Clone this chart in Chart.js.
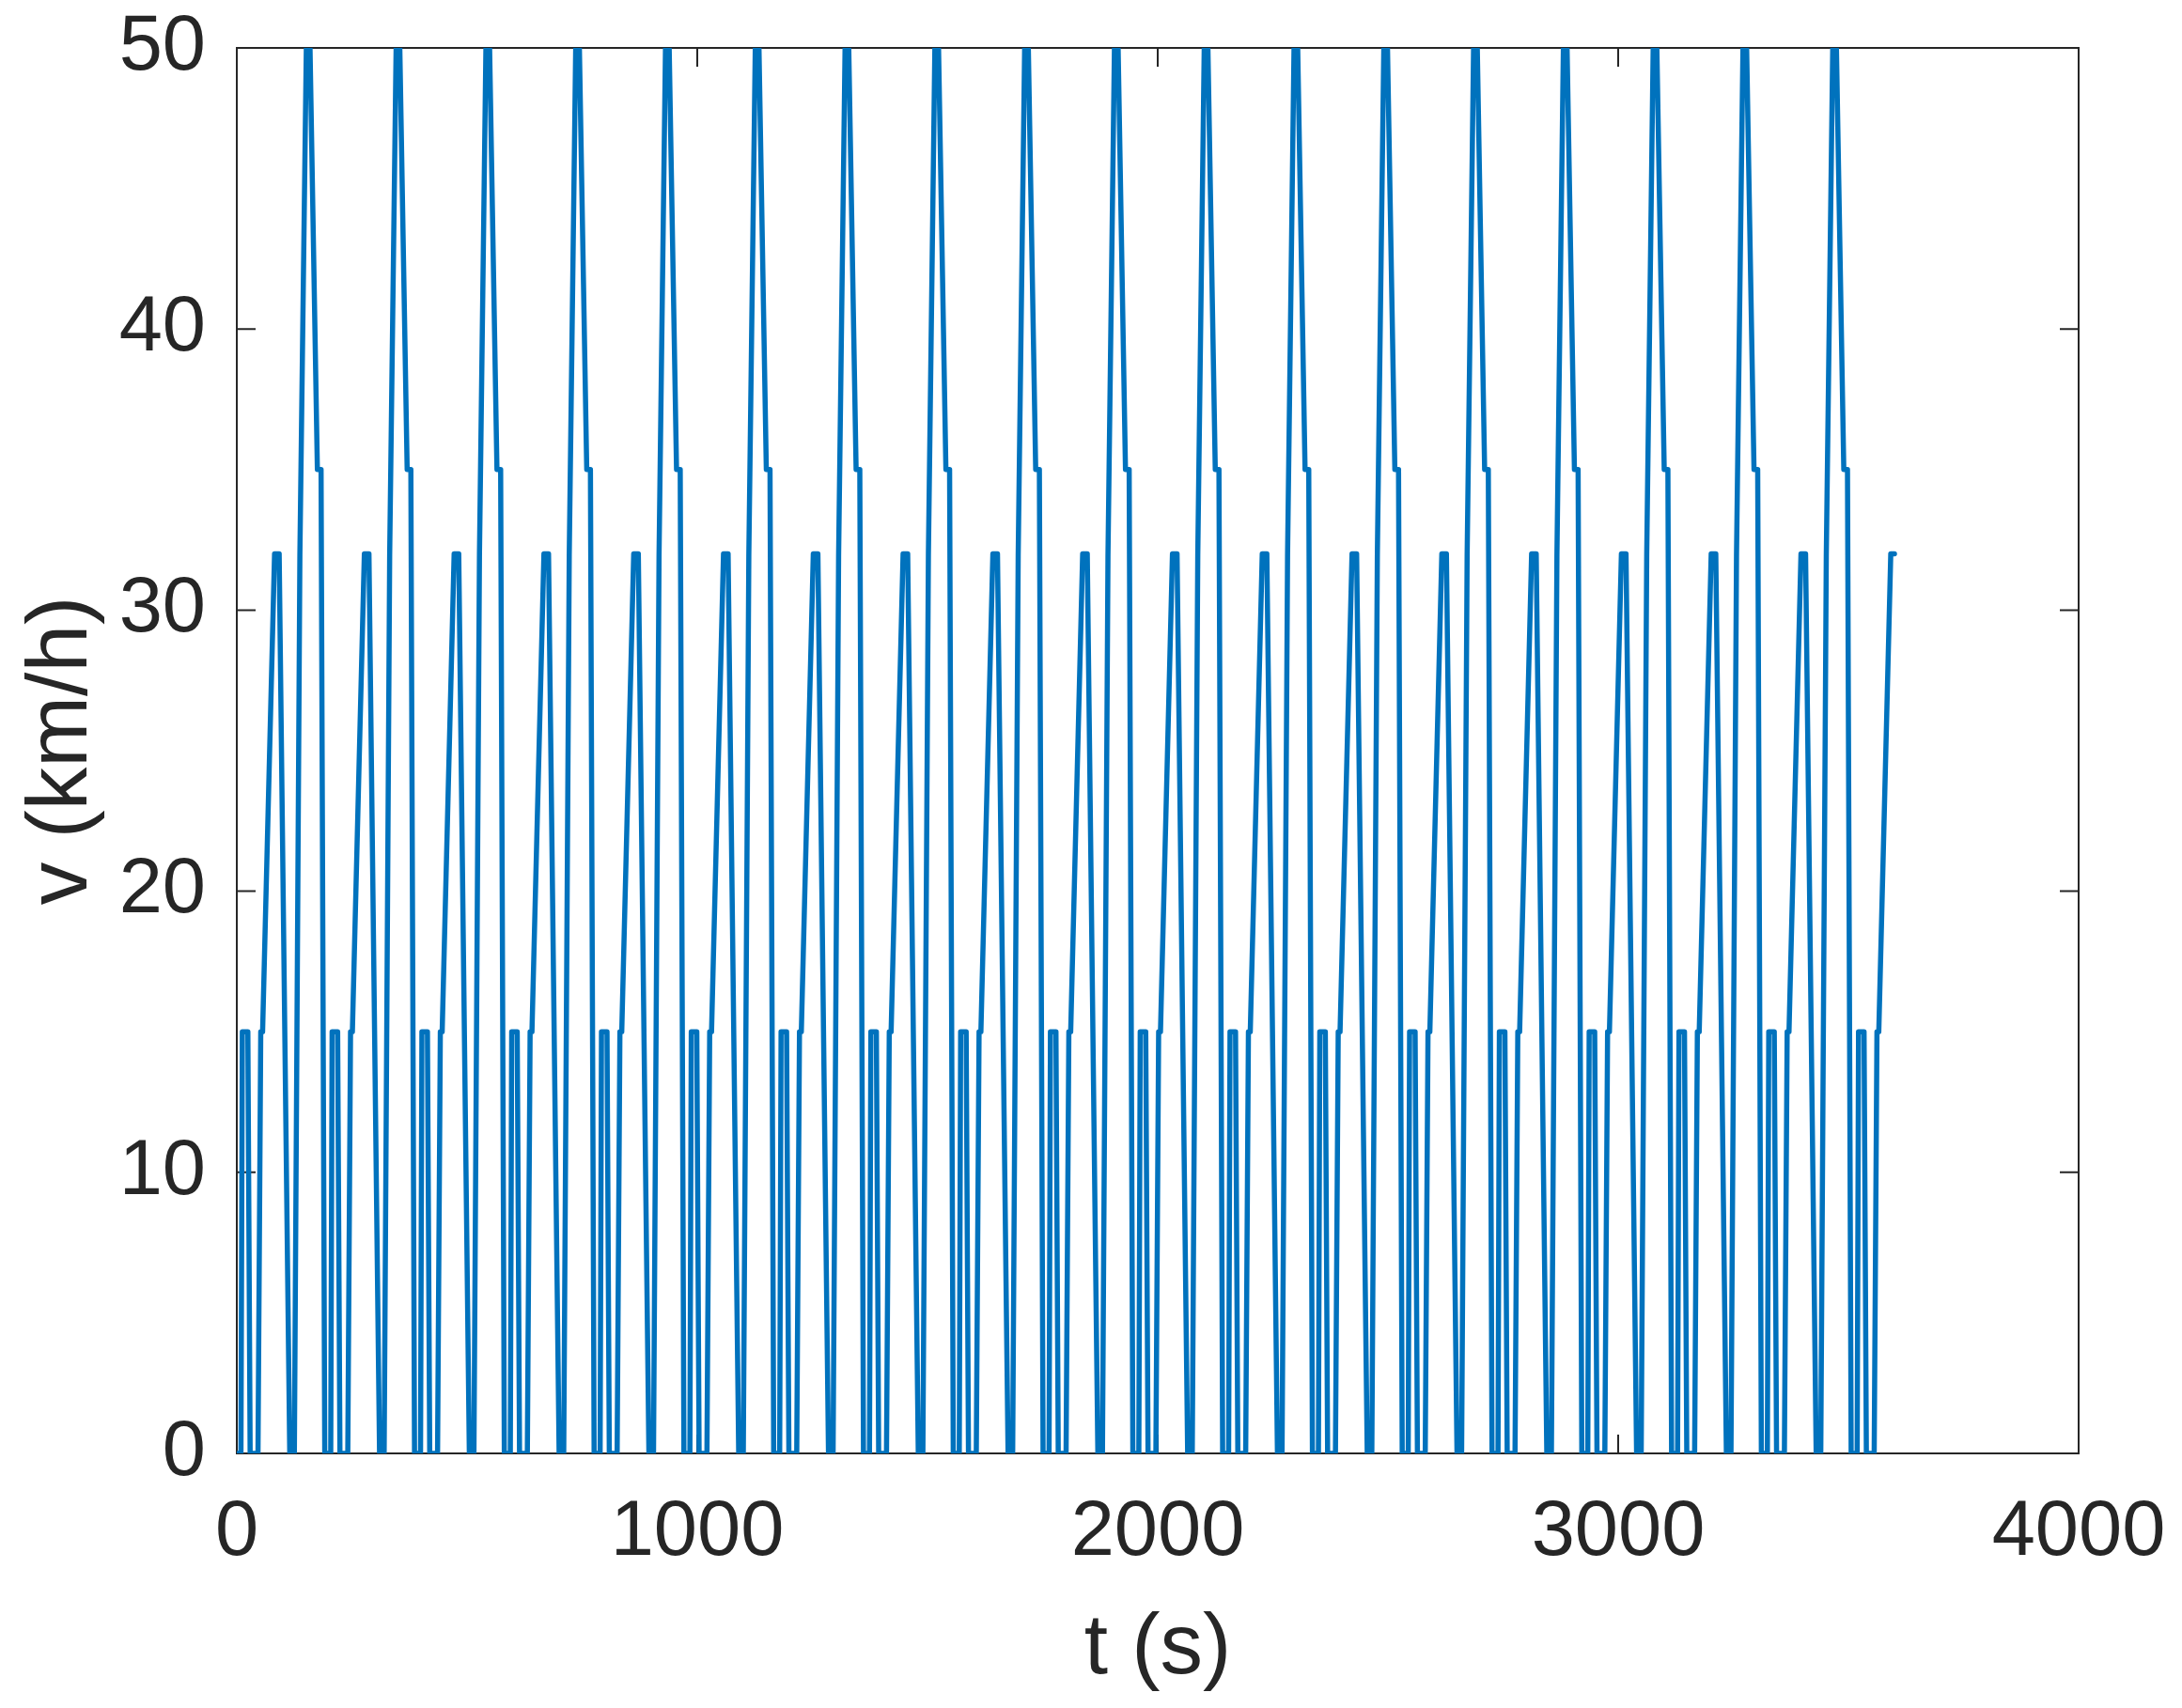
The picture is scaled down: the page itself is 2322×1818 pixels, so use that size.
<!DOCTYPE html>
<html>
<head>
<meta charset="utf-8">
<title>v (km/h) vs t (s)</title>
<script src="https://cdn.jsdelivr.net/npm/chart.js@4.4.1/dist/chart.umd.min.js"></script>
<style>
  html, body { margin: 0; padding: 0; background: #fff; }
  #wrap { width: 2322px; height: 1818px; }
</style>
</head>
<body>
<div id="wrap"><canvas id="cycle" width="2322" height="1818"></canvas></div>
<script>
// one driving cycle (s, km/h)
const cycleTime  = [0, 9, 12, 24, 29, 46, 52, 56, 82, 92, 115, 125, 137, 151, 159, 175, 183, 191, 195];
const cycleSpeed = [0, 0, 15, 15,  0,  0, 15, 15, 32, 32,   0,   0,  32,  50,  50,  35,  35,   0,   0];

// where each repetition starts on the time axis
const cycleStart = [0, 195, 390, 585, 780, 975, 1170, 1365, 1560, 1755,
                    1950, 2145, 2340, 2535, 2730, 2925, 3120, 3315, 3510];

// the trace stops here
const endTime = 3600;
const endSpeed = 32;

// axis ticks
const xTicks = [0, 1000, 2000, 3000, 4000];
const yTicks = [0, 10, 20, 30, 40, 50];

const axisColor = '#262626';
const lineColor = '#0072BD';
const fontFamily = '"Liberation Sans", Arial, Helvetica, sans-serif';

let points = [];
cycleStart.forEach(s => {
    for (let i = 0; i < cycleTime.length; i++) {
        const t = s + cycleTime[i];
        if (t > endTime) break;
        points.push({ x: t, y: cycleSpeed[i] });
    }
});
if (points[points.length - 1].x < endTime) points.push({ x: endTime, y: endSpeed });

// box + inward ticks on all four sides, like a matlab axes
const boxPlugin = {
    id: 'box',
    beforeDatasetsDraw(chart) {
        const { ctx, chartArea: a, scales } = chart;
        const len = 20;
        ctx.save();
        ctx.strokeStyle = axisColor;
        ctx.lineWidth = 2;
        ctx.beginPath();
        xTicks.forEach(v => {
            const px = scales.x.getPixelForValue(v);
            ctx.moveTo(px, a.bottom); ctx.lineTo(px, a.bottom - len);
            ctx.moveTo(px, a.top); ctx.lineTo(px, a.top + len);
        });
        yTicks.forEach(v => {
            const py = scales.y.getPixelForValue(v);
            ctx.moveTo(a.left, py); ctx.lineTo(a.left + len, py);
            ctx.moveTo(a.right, py); ctx.lineTo(a.right - len, py);
        });
        ctx.stroke();
        ctx.strokeRect(a.left, a.top, a.right - a.left, a.bottom - a.top);
        ctx.restore();
    }
};

// no extra room for overhanging tick labels, the plot box is fixed
function noOverhang(s) {
    s.paddingTop = 0; s.paddingBottom = 0;
    s.paddingLeft = 0; s.paddingRight = 0;
}

new Chart(document.getElementById('cycle'), {
    type: 'line',
    data: {
        datasets: [{
            data: points,
            borderColor: lineColor,
            borderWidth: 5.5,
            pointRadius: 0,
            tension: 0,
            fill: false,
            borderJoinStyle: 'round',
            borderCapStyle: 'round'
        }]
    },
    options: {
        responsive: false,
        animation: false,
        devicePixelRatio: 1,
        layout: { padding: { left: 0, top: 51, right: 110, bottom: 0 } },
        plugins: { legend: { display: false }, tooltip: { enabled: false } },
        scales: {
            x: {
                type: 'linear',
                min: 0, max: 4000,
                afterBuildTicks: s => { s.ticks = xTicks.map(v => ({ value: v })); },
                afterFit: s => { s.height = 271; noOverhang(s); },
                grid: { display: false, drawTicks: false },
                border: { display: false },
                ticks: {
                    color: axisColor,
                    padding: 35,
                    maxRotation: 0,
                    callback: v => String(v),
                    font: { family: fontFamily, size: 83 }
                },
                title: {
                    display: true,
                    text: 't (s)',
                    color: axisColor,
                    padding: { top: 0, bottom: 7 },
                    font: { family: fontFamily, size: 91, lineHeight: 1.2 }
                }
            },
            y: {
                type: 'linear',
                min: 0, max: 50,
                afterBuildTicks: s => { s.ticks = yTicks.map(v => ({ value: v })); },
                afterFit: s => { s.width = 252; noOverhang(s); },
                grid: { display: false, drawTicks: false },
                border: { display: false },
                ticks: {
                    color: axisColor,
                    padding: 33,
                    callback: v => String(v),
                    font: { family: fontFamily, size: 83 }
                },
                title: {
                    display: true,
                    text: 'v (km/h)',
                    color: axisColor,
                    padding: { top: 12, bottom: 0 },
                    font: { family: fontFamily, size: 91, lineHeight: 1.2 }
                }
            }
        }
    },
    plugins: [boxPlugin]
});
</script>
</body>
</html>
